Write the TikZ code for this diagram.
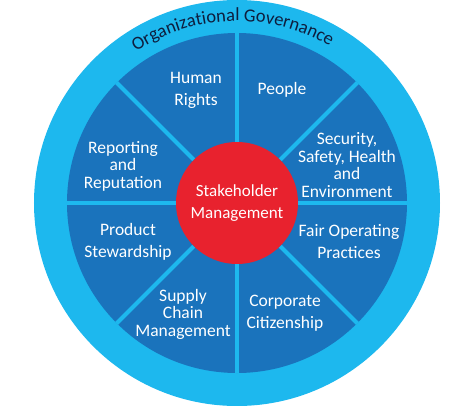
\documentclass[tikz,border=0pt]{standalone}
\usepackage{fontspec}
\setmainfont{Carlito}
\usetikzlibrary{decorations.text}
\definecolor{ringblue}{HTML}{1DB8EE}
\definecolor{secblue}{HTML}{1A73BC}
\definecolor{hubred}{HTML}{E8222E}
\definecolor{navy}{HTML}{0E1E3E}
\begin{document}
\begin{tikzpicture}[x=1pt,y=1pt,
  disc/.style={circle, inner sep=0pt, draw=none},
  lbltwo/.style={text=white, font=\fontsize{17.5}{22}\selectfont, align=center, inner sep=0pt},
  lblthree/.style={text=white, font=\fontsize{17.5}{17.5}\selectfont, align=center, inner sep=0pt},
  spoke/.style={draw=ringblue, line width=4pt}]
\useasboundingbox (-237,-202) rectangle (237,203);
\fill[white] (-237,-202) rectangle (237,203);
\node[disc, fill=ringblue, minimum size=406pt] (ring) at (0,0) {};
\node[disc, fill=secblue, minimum size=340pt] (disk) at (0,0) {};
\node[disc, fill=hubred, minimum size=122pt] (hub) at (0,0) {};
\foreach \a in {0,45,...,315} \path[spoke] (hub.\a) -- (disk.\a);
\path[decorate, decoration={text along path, text align=center,
  text={|\fontsize{18.5}{18.5}\selectfont\color{navy}|Organizational Governance}}]
  (151.5:182) arc[start angle=151.5, end angle=31.5, radius=182];
\node[lbltwo] (hr) at (-41,113) {Human\\Rights};
\node[lbltwo] (pe) at (45,113) {People};
\node[lblthree] (rr) at (-114,37) {Reporting\\and\\Reputation};
\node[lblthree] (sshe) at (110,38) {Security,\\Safety, Health\\and\\Environment};
\node[lbltwo] (ps) at (-109,-39) {Product\\Stewardship};
\node[lbltwo] (fop) at (112,-39) {Fair Operating\\Practices};
\node[lblthree] (scm) at (-54,-111) {Supply\\Chain\\Management};
\node[lbltwo] (cc) at (48,-110) {Corporate\\Citizenship};
\node[lbltwo, font=\fontsize{17}{22}\selectfont] (sm) at (hub) {Stakeholder\\Management};
\end{tikzpicture}
\end{document}
